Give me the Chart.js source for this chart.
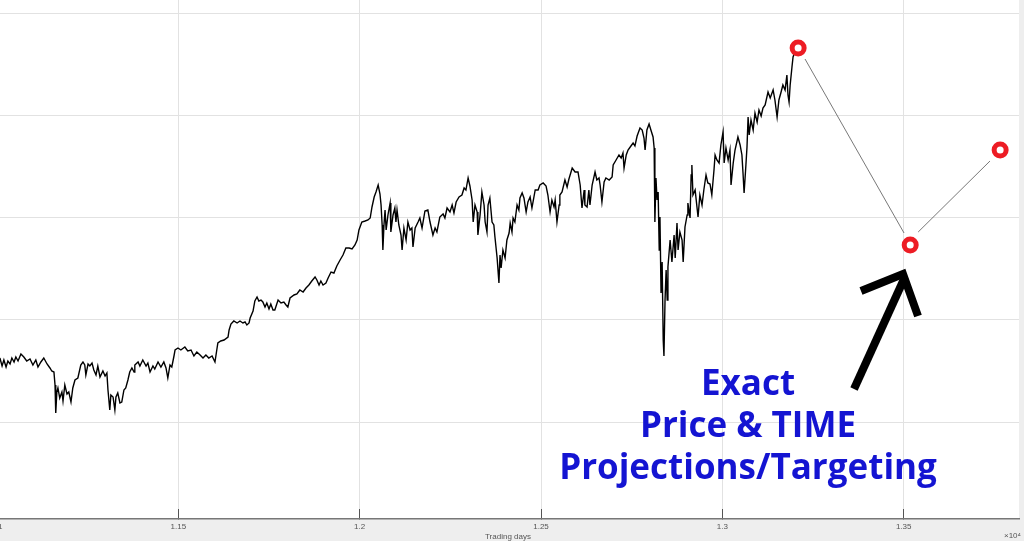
<!DOCTYPE html>
<html>
<head>
<meta charset="utf-8">
<style>
html,body{margin:0;padding:0;width:1024px;height:541px;overflow:hidden;background:#eeeeee}
canvas{position:absolute;left:-12px;top:0}
</style>
<script src="https://cdn.jsdelivr.net/npm/chart.js@4"></script>
</head>
<body>
<canvas id="c" width="1036" height="541"></canvas>
<script>
const tradingDays=[11008,11014,11019,11025,11030,11036,11041,11047,11052,11058,11066,11074,11082,11091,11099,11107,11113,11121,11129,11138,11146,11151,11157,11160,11162,11165,11168,11173,11179,11182,11187,11193,11198,11204,11209,11215,11223,11231,11237,11242,11245,11251,11256,11262,11267,11273,11278,11284,11292,11298,11303,11306,11311,11314,11320,11325,11328,11333,11339,11344,11350,11355,11361,11366,11372,11378,11380,11389,11394,11402,11411,11416,11422,11430,11435,11444,11452,11460,11466,11471,11477,11482,11488,11491,11499,11507,11518,11526,11535,11543,11551,11560,11568,11576,11584,11593,11601,11606,11609,11617,11626,11637,11640,11645,11653,11662,11670,11678,11684,11689,11695,11698,11706,11711,11717,11722,11728,11733,11739,11744,11750,11755,11761,11766,11775,11783,11791,11797,11802,11808,11819,11827,11835,11844,11852,11860,11868,11877,11882,11888,11893,11899,11907,11913,11921,11929,11937,11946,11954,11962,11971,11979,11987,11993,11998,12006,12015,12023,12029,12034,12040,12045,12051,12056,12059,12062,12064,12067,12070,12073,12078,12084,12086,12092,12097,12100,12103,12108,12114,12117,12122,12128,12133,12139,12144,12147,12153,12161,12166,12172,12180,12188,12194,12202,12208,12213,12221,12230,12235,12241,12249,12255,12260,12266,12274,12282,12288,12293,12299,12304,12310,12313,12318,12324,12326,12332,12337,12343,12346,12351,12354,12359,12365,12370,12373,12379,12384,12387,12390,12395,12401,12406,12412,12415,12420,12423,12428,12434,12439,12442,12448,12453,12459,12464,12470,12475,12484,12492,12497,12506,12514,12519,12525,12530,12536,12539,12544,12550,12552,12558,12566,12572,12577,12586,12594,12602,12608,12613,12619,12621,12627,12632,12635,12641,12649,12654,12660,12663,12668,12674,12679,12688,12696,12699,12707,12715,12721,12726,12729,12735,12740,12748,12754,12759,12765,12773,12779,12784,12787,12792,12798,12803,12809,12812,12814,12817,12820,12823,12826,12828,12831,12834,12837,12839,12842,12845,12848,12850,12856,12861,12867,12870,12875,12878,12883,12889,12892,12897,12903,12905,12911,12914,12916,12919,12925,12933,12938,12944,12949,12955,12960,12966,12971,12977,12980,12985,12991,12996,13002,13005,13010,13016,13021,13024,13030,13035,13043,13049,13054,13057,13060,13065,13068,13071,13074,13079,13085,13090,13096,13101,13107,13112,13118,13126,13132,13140,13145,13151,13156,13162,13167,13173,13178,13181,13184,13187,13192,13195,13200,13206];
const priceLevels=[161,153,159,152,158,155,161,157,162,158,165,162,158,160,154,159,152,157,161,155,151,148,147,134,106,127,131,121,127,118,134,125,127,117,131,139,141,154,157,154,144,155,153,156,149,144,153,142,148,143,146,129,109,124,122,109,122,126,116,117,129,131,139,147,151,147,154,157,153,159,153,156,147,153,150,157,152,157,151,141,154,152,163,169,171,169,172,168,169,163,167,164,161,164,161,163,157,169,176,178,179,182,189,195,198,196,198,196,197,194,196,201,208,218,222,218,219,217,212,216,210,215,209,209,219,216,217,214,212,221,224,225,229,227,231,234,238,242,239,234,238,234,236,241,247,246,253,259,264,271,271,270,274,279,289,297,298,299,301,312,322,327,334,325,314,294,269,294,309,289,304,316,287,304,311,297,309,294,284,269,291,279,297,289,291,272,291,297,301,291,308,309,297,284,291,287,302,305,301,311,307,314,306,317,322,324,331,329,341,333,319,297,314,307,284,304,327,314,297,287,314,321,297,294,282,261,236,264,251,269,261,279,286,296,287,301,297,314,309,321,326,321,307,317,322,311,329,329,334,336,333,324,307,319,312,319,297,314,324,327,339,332,340,351,347,347,334,311,329,314,312,329,314,334,347,339,341,334,317,337,341,339,342,354,359,364,361,366,351,364,369,373,376,373,383,391,389,381,369,389,395,389,382,371,297,341,319,327,269,302,226,257,179,163,219,249,219,252,279,257,284,261,296,269,287,279,257,292,304,316,301,344,354,324,329,302,324,314,329,344,336,335,324,349,364,359,356,374,387,356,371,359,369,334,356,369,382,374,364,346,326,354,372,402,384,399,389,406,397,409,403,411,414,427,421,429,419,402,419,427,434,429,444,424,417,434,452,462,467,471];
const targetDays=[13209,13518,13766];
const targetLevels=[471,274,369];
const projectionDays=[13228,13501,null,13540,13738];
const projectionLevels=[460,286,null,287,358];
const gridLevels=[97,199.5,302,404,506];
const xTickDays=[11000,11500,12000,12500,13000,13500];
const annotationLines=["Exact","Price & TIME","Projections/Targeting"];
const xAxisTitle="Trading days";
const xExponent="\u00d710\u2074";

const pair=(xs,ys)=>xs.map((x,i)=>({x:x,y:ys[i]}));

const backdrop={id:'backdrop',beforeDraw(ch){
  const a=ch.chartArea,g=ch.ctx;
  g.save();g.fillStyle='#ffffff';g.fillRect(a.left,a.top,a.right-a.left,a.bottom-a.top);g.restore();
}};
const overlay={id:'overlay',afterDraw(ch){
  const g=ch.ctx,ox=12;
  g.save();
  g.strokeStyle='#000';g.lineWidth=8;g.lineCap='butt';g.lineJoin='miter';
  g.beginPath();g.moveTo(854+ox,389);g.lineTo(904+ox,279);g.stroke();
  g.beginPath();g.moveTo(861+ox,291);g.lineTo(903+ox,274);g.lineTo(918+ox,316);g.stroke();
  g.fillStyle='#1414d2';g.textAlign='center';g.textBaseline='middle';
  g.font='bold 35px "Open Sans"';
  annotationLines.forEach((t,i)=>g.fillText(t,748+ox,385+i*42));
  g.fillStyle='#555';g.font='8px "Liberation Sans"';g.textAlign='right';
  g.fillText(xExponent,1021+ox,536);
  g.restore();
}};

new Chart(document.getElementById('c'),{
  type:'line',
  data:{datasets:[
    {label:'Price',data:pair(tradingDays,priceLevels),borderColor:'#000',borderWidth:1.4,pointRadius:0,tension:0,order:3},
    {label:'Projection',data:pair(projectionDays,projectionLevels),borderColor:'#555',borderWidth:0.8,pointRadius:0,tension:0,spanGaps:false,order:2},
    {label:'Targets',data:pair(targetDays,targetLevels),showLine:false,pointRadius:6,pointBackgroundColor:'#fff',pointBorderColor:'#ed1c24',pointBorderWidth:5,order:1}
  ]},
  options:{
    responsive:false,animation:false,
    layout:{autoPadding:false,padding:{left:9,right:5,top:0,bottom:0}},
    plugins:{legend:{display:false},tooltip:{enabled:false}},
    scales:{
      x:{type:'linear',min:11000,max:13818,
        afterFit(s){s.height=22;s.paddingLeft=0;s.paddingRight=0;},
        afterBuildTicks(s){s.ticks=xTickDays.map(v=>({value:v}));},
        grid:{color:'#e2e2e2',lineWidth:1,tickColor:'#555',tickLength:-10,tickWidth:1},
        border:{color:'#777',width:1.5},
        ticks:{includeBounds:false,autoSkip:false,maxRotation:0,color:'#555',font:{size:8,family:'"Liberation Sans"'},padding:13,
          callback:v=>String(v/10000)},
        title:{display:true,text:xAxisTitle,color:'#555',font:{size:8,family:'"Liberation Sans"'},padding:{top:0,bottom:-1}}
      },
      y:{type:'linear',min:0,max:519,
        afterFit(s){s.width=0;s.paddingTop=0;s.paddingBottom=0;},
        afterBuildTicks(s){s.ticks=gridLevels.map(v=>({value:v}));},
        grid:{color:'#e2e2e2',lineWidth:1,drawTicks:false},
        border:{display:false},
        ticks:{display:false}
      }
    }
  },
  plugins:[backdrop,overlay]
});
</script>
</body>
</html>
